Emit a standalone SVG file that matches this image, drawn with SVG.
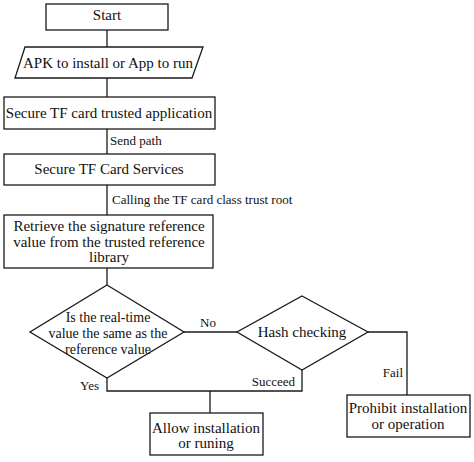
<svg xmlns="http://www.w3.org/2000/svg" width="474" height="462" viewBox="0 0 474 462">
<style>
.s{fill:#fff;stroke:#1a1a1a;stroke-width:1.3}
.c{fill:none;stroke:#1a1a1a;stroke-width:1.3}
text{font-family:"Liberation Serif","Times New Roman",serif;fill:#111}
.t{font-size:15px;text-anchor:middle}
.d{font-size:14px;text-anchor:middle}
.l{font-size:13px}
</style>
<rect width="474" height="462" fill="#fff"/>
<g id="connectors">
<path class="c" d="M107 30V47M107 78V97M107 129V154M107 185V215M107 268V285"/>
<path class="c" d="M184 332H237"/>
<path class="c" d="M368 332H407V395"/>
<path class="c" d="M107 378V391H302V370"/>
<path class="c" d="M210 391V413"/>
<text class="l" x="110" y="145">Send path</text>
<text class="l" x="112" y="204">Calling the TF card class trust root</text>
<text class="l" x="200" y="327">No</text>
<text class="l" x="99" y="390" text-anchor="end">Yes</text>
<text class="l" x="295" y="386" text-anchor="end">Succeed</text>
<text class="l" x="403" y="377" text-anchor="end">Fail</text>
</g>
<g id="start">
<rect class="s" x="46" y="4" width="122" height="26"/>
<text class="t" x="107" y="20">Start</text>
</g>
<g id="input">
<polygon class="s" points="25,47 203,47 192,78 15,78"/>
<text class="t" x="108" y="68">APK to install or App to run</text>
</g>
<g id="app">
<rect class="s" x="4" y="97" width="211" height="32"/>
<text class="t" x="109" y="118">Secure TF card trusted application</text>
</g>
<g id="services">
<rect class="s" x="4" y="154" width="211" height="31"/>
<text class="t" x="109" y="174">Secure TF Card Services</text>
</g>
<g id="retrieve">
<rect class="s" x="4" y="215" width="209" height="53"/>
<text class="t" x="109" y="231">Retrieve the signature reference</text>
<text class="t" x="109" y="247">value from the trusted reference</text>
<text class="t" x="109" y="262">library</text>
</g>
<g id="compare">
<polygon class="s" points="107,285 184,332 107,378 30,332"/>
<text class="d" x="108" y="322">Is the real-time</text>
<text class="d" x="108" y="338">value the same as the</text>
<text class="d" x="108" y="354">reference value</text>
</g>
<g id="hash">
<polygon class="s" points="302,296 368,332 302,370 237,332"/>
<text class="t" x="302" y="337">Hash checking</text>
</g>
<g id="prohibit">
<rect class="s" x="347" y="395" width="123" height="42"/>
<text class="t" x="408" y="413">Prohibit installation</text>
<text class="t" x="408" y="429">or operation</text>
</g>
<g id="allow">
<rect class="s" x="150" y="413" width="113" height="42"/>
<text class="t" x="206" y="433">Allow installation</text>
<text class="t" x="206" y="448">or runing</text>
</g>
</svg>
